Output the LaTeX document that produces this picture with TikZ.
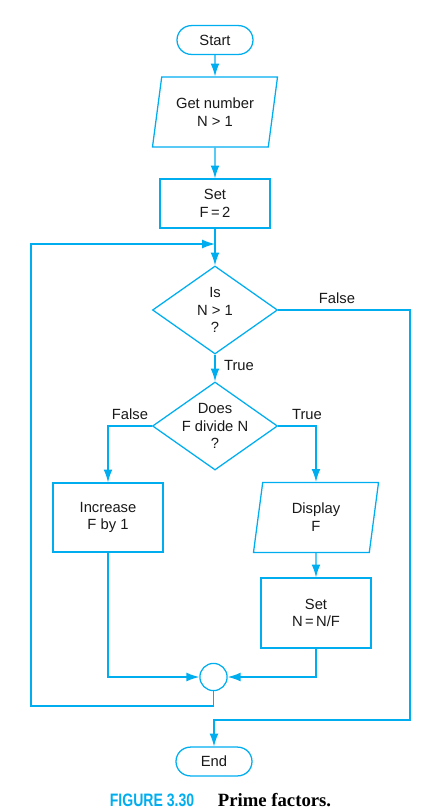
\documentclass[tikz,border=0pt]{standalone}
\usepackage{fontspec}
\setmainfont{Liberation Sans}
\newfontfamily\figfont[FakeStretch=0.78]{Liberation Sans}
\newfontfamily\capserif{Liberation Serif}
\usetikzlibrary{shapes.geometric,arrows.meta}
\definecolor{flowblue}{RGB}{0,174,239}

\begin{document}
\begin{tikzpicture}[x=0.025cm, y=-0.025cm,
    every node/.style={font=\fontsize{10.5}{12.6}\selectfont, text=black!90},
    flow/.style={draw=flowblue, line width=0.9pt},
    term/.style={flow, rounded corners=0.36cm, minimum width=1.9cm, minimum height=0.72cm, inner sep=0},
    proc/.style={flow, rectangle, minimum width=2.75cm, align=center, inner sep=0},
    io/.style={flow, trapezium, trapezium left angle=72, trapezium right angle=108,
        trapezium stretches body, minimum width=3.125cm, minimum height=1.75cm, align=center, inner sep=0},
    decide/.style={flow, diamond, aspect=1.42, minimum width=3.125cm, minimum height=2.2cm, align=center, inner sep=-3pt},
    joint/.style={flow, circle, minimum size=0.68cm, inner sep=0},
    arr/.style={draw=flowblue, line width=0.9pt, -{Latex[length=3.2mm, width=2.2mm]}}]

    \useasboundingbox (0,0) rectangle (433,812);

    % Main column
    \node[term] (start) at (215,40) {Start};
    \node[io] (getnum) at (215,112) {Get number\\N > 1};
    \node[proc, minimum height=1.225cm] (setF) at (215,203.5) {Set\\F\,=\,2};
    \node[decide] (isN) at (215,310) {Is\\N > 1\\?};
    \node[decide] (divF) at (215,426) {Does\\F divide N\\?};

    % Two branches
    \node[proc, minimum height=1.725cm] (incF) at (108,517.5) {Increase\\F by 1};
    \node[io] (disp) at (316,517.5) {Display\\F};
    \node[proc, minimum height=1.75cm] (setN) at (316,613) {Set\\N\,=\,N/F};
    \node[joint] (conn) at (213.5,677) {};
    \node[term] (done) at (214,761.5) {End};

    \coordinate (join) at (215,244);
    \coordinate (lft) at (31,706);
    \coordinate (rgt) at (410,720);

    % Labels
    \node (isNno) at (337,298) {False};
    \node (isNyes) at (239,365) {True};
    \node (divFno) at (130,414) {False};
    \node (divFyes) at (307,414) {True};

    % Arrows
    \draw[arr] (start) -- (getnum);
    \draw[arr] (getnum) -- (setF);
    \draw[arr] (setF) -- (isN);
    \draw[arr] (isN) -- (divF);
    \draw[arr] (isN.east) -| (rgt) -| (done.north);
    \draw[arr] (divF.west) -| (incF.north);
    \draw[arr] (divF.east) -| (disp.north);
    \draw[arr] (disp) -- (setN);
    \draw[arr] (incF.south) |- (conn.west);
    \draw[arr] (setN.south) |- (conn.east);
    % Loop back
    \draw[arr] (conn.south) |- (lft) |- (join);

    % Caption
    \node[text=flowblue, font=\figfont\bfseries\fontsize{12.8}{14}\selectfont] (fignum) at (152,800) {FIGURE 3.30};
    \node[text=black, font=\capserif\bfseries\fontsize{13.3}{14}\selectfont] (figcap) at (274.5,800) {Prime factors.};
\end{tikzpicture}
\end{document}
